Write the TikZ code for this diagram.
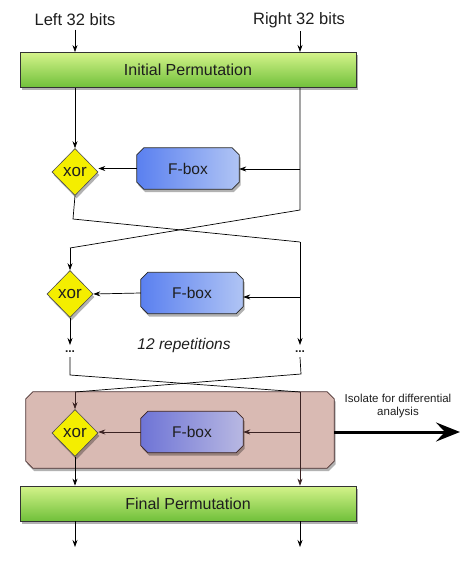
\documentclass[tikz,border=0pt]{standalone}
\usepackage{fontspec}
\setmainfont{Liberation Sans}
\usetikzlibrary{shapes.geometric,arrows.meta,shadows,backgrounds}
\definecolor{permtop}{HTML}{D4F38A}
\definecolor{permbot}{HTML}{70C03A}
\definecolor{fbl}{HTML}{5A80F0}
\definecolor{fbr}{HTML}{B0C4F4}
\definecolor{fbl3}{HTML}{6E74D6}
\definecolor{fbr3}{HTML}{B8B8E2}
\definecolor{xory}{HTML}{F4EE00}
\definecolor{pinkfill}{HTML}{D9BAB3}
\definecolor{pinkdraw}{HTML}{4A3030}
\definecolor{textc}{HTML}{1E1E1E}
\definecolor{brown}{HTML}{3A2222}
\newcommand\chamfpath[2]{([xshift=#2]#1.north west) -- ([xshift=-#2]#1.north east) -- ([yshift=-#2]#1.north east) -- ([yshift=#2]#1.south east) -- ([xshift=-#2]#1.south east) -- ([xshift=#2]#1.south west) -- ([yshift=#2]#1.south west) -- ([yshift=-#2]#1.north west) -- cycle}
\begin{document}
\begin{tikzpicture}[x=1pt,y=-1pt,
  every node/.style={text=textc},
  shad/.style={drop shadow={shadow xshift=1.5pt,shadow yshift=-3pt,opacity=0.3,fill=black}},
  perm/.style={rectangle,draw=black!80,line width=0.8pt,top color=permtop,bottom color=permbot,
    minimum width=336pt,minimum height=35pt,inner sep=0pt,font=\fontsize{16}{18}\selectfont,shad},
  fbox/.style={rectangle,minimum width=102pt,minimum height=41pt,inner sep=0pt,
    font=\fontsize{15.5}{18}\selectfont},
  fboxfill/.style={draw=black!85,line width=0.8pt,left color=fbl,right color=fbr,shad},
  pinkbox/.style={rectangle,minimum width=308pt,minimum height=76pt,inner sep=0pt},
  pinkfill/.style={draw=pinkdraw,line width=0.7pt,fill=pinkfill,shad},
  xorbox/.style={diamond,draw=black!70,line width=0.6pt,fill=xory,minimum width=46pt,minimum height=47pt,
    inner sep=0pt,font=\fontsize{17}{18}\selectfont,shad},
  lbl/.style={font=\fontsize{16.5}{18}\selectfont},
  dots/.style={font=\fontsize{12}{12}\selectfont\bfseries,inner xsep=1pt,inner ysep=5pt,anchor=base},
  arr/.style={-{Stealth[length=7pt,width=5pt]},line width=0.7pt},
  ln/.style={line width=0.7pt},
]
\useasboundingbox (0,0) rectangle (474,564);

% top labels
\node[lbl] (lt) at (75,20) {Left 32 bits};
\node[lbl] (rt) at (299,20) {Right 32 bits};

% initial permutation
\node[perm] (ip) at (188,70) {Initial Permutation};
\draw[arr] (lt.south) -- (lt.south |- ip.north);
\draw[arr] (rt.south -| 300,0) -- (300,52);

% round 1
\node[xorbox] (x1) at (75,172) {xor};
\node[fbox] (f1) at (188,168.5) {F-box};
% round 2
\node[xorbox] (x2) at (70,294) {xor};
\node[fbox] (f2) at (192,293) {F-box};
% dots and repetitions
\node[dots] (d1) at (70,352) {...};
\node[dots] (d2) at (300,352) {...};
\node[font=\fontsize{15.5}{18}\selectfont\itshape] (rep) at (184,345) {12 repetitions};

% isolated round
\node[pinkbox] (pk) at (180,430) {};
\node[xorbox] (x3) at (75,433) {xor};
\node[fbox] (f3) at (192,432) {F-box};

% chamfered shapes behind the texts
\begin{scope}[on background layer]
  \path[fboxfill] \chamfpath{f1}{7pt};
  \path[fboxfill] \chamfpath{f2}{7pt};
  \path[pinkfill] \chamfpath{pk}{7pt};
  \path[fboxfill,left color=fbl3,right color=fbr3,draw=brown] \chamfpath{f3}{7pt};
\end{scope}

% final permutation
\node[perm] (fp) at (188,503.5) {Final Permutation};

% coordinates
\coordinate (ipl) at (75,88);
\coordinate (ipr) at (300,88);
\coordinate (r1) at (300,169);
\coordinate (a1) at (300,210);
\coordinate (b1) at (70,248);
\coordinate (c1) at (73,219);
\coordinate (e1) at (300,242);
\coordinate (r2) at (300,297);
\coordinate (a2) at (70,375);
\coordinate (b2) at (300,392);
\coordinate (c2) at (301,374);
\coordinate (e2) at (75,392);
\coordinate (r3) at (300,432);
\coordinate (o1) at (75,547);
\coordinate (o2) at (300,547);
\coordinate (iso) at (460,432);

% round 1 connections
\draw[arr] (ipl) -- (x1.north);
\draw[ln] (ipr) -- (a1) -- (b1);
\draw[arr] (b1) -- (x2.north);
\draw[arr] (r1) -- (r1 -| f1.east);
\draw[arr] (f1.west) -- (f1.west -| x1.east);
\draw[ln] (x1.south) -- (c1) -- (e1);
\draw[arr] (e1) -- (d2.north);

% round 2 connections
\draw[arr] (r2) -- (r2 -| f2.east);
\draw[arr] (f2.west) -- (x2.east);
\draw[arr] (x2.south) -- (d1.north);

% crossing to last round
\draw[ln] (d1.south) -- (a2) -- (b2);
\draw[ln] (d2.south) -- (c2) -- (e2);
\draw[arr,brown] (e2) -- (x3.north);
\draw[arr,brown] (b2) -- (b2 |- fp.north);
\draw[arr,brown] (r3) -- (r3 -| f3.east);
\draw[arr,brown] (f3.west) -- (f3.west -| x3.east);
\draw[arr] (x3.south) -- (x3.south |- fp.north);

% outputs
\draw[arr] (fp.south -| o1) -- (o1);
\draw[arr] (fp.south -| o2) -- (o2);

% isolate arrow
\draw[line width=3pt,-{Stealth[length=24pt,width=19pt,inset=9pt]}] (pk.east |- iso) -- (iso);
\node[font=\fontsize{11.5}{13}\selectfont,align=center] (isot) at (398,406) {Isolate for differential\\analysis};
\end{tikzpicture}
\end{document}
